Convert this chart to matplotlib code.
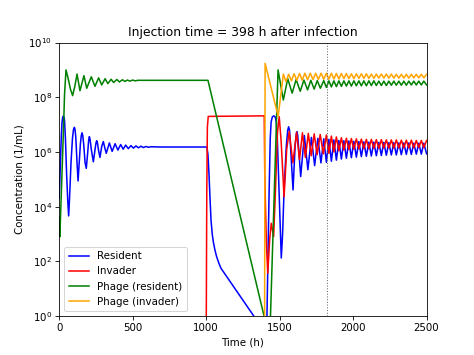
import numpy as np
import matplotlib
matplotlib.use('Agg')
import matplotlib.pyplot as plt

# values are log10(concentration)
blue_t = [0, 8, 14, 19, 24, 28, 32, 36, 42, 50, 58, 64, 70, 80, 90, 97, 103, 108, 113, 121, 128,
          136, 144, 150, 155, 160, 166, 176, 184, 194, 200, 205, 210, 218, 232, 244, 250, 255,
          260, 266, 277, 289, 300, 310, 320, 341, 360,
          380, 399, 418, 435, 452, 470, 488, 505, 522, 539, 556, 573, 590, 607, 624, 700,
          1005, 1012, 1019, 1026, 1033, 1041, 1049, 1060, 1071, 1085, 1100, 1330, 1412,
          1420, 1428, 1436, 1442, 1450, 1460, 1470, 1477, 1484, 1492, 1500, 1511, 1520, 1530,
          1545, 1555, 1561, 1567, 1575, 1591, 1605, 1613, 1618, 1623, 1643, 1668, 1692, 1716,
          1738, 1760, 1781, 1800]
blue_log = [4.3, 5.6, 6.6, 7.1, 7.28, 7.31, 7.28, 7.15, 6.5, 5.2, 4.2, 3.66, 4.3, 5.6, 6.5,
            6.82, 6.9, 6.8, 6.5, 5.6, 4.94, 5.6, 6.3, 6.6, 6.7, 6.6, 6.3, 5.6, 5.4, 6.0,
            6.42, 6.56, 6.45, 6.1, 5.64, 6.1, 6.33, 6.41, 6.33, 6.1, 5.8, 6.2,
            6.38, 6.15, 5.95, 6.33, 6.02, 6.3, 6.07, 6.27, 6.1, 6.25, 6.12, 6.23, 6.14, 6.22,
            6.15, 6.21, 6.16, 6.2, 6.17, 6.19, 6.18,
            6.18, 5.9, 5.2, 4.3, 3.5, 3.0, 2.7, 2.4, 2.17, 1.95, 1.75, -0.05, -0.5,
            2.0, 4.5, 6.5, 7.1, 7.28, 7.32, 7.28, 7.1, 6.5, 5.2, 3.8, 2.12, 3.0, 4.6,
            6.2, 6.8, 6.92, 6.8, 6.1, 4.61, 6.2, 6.65, 6.74, 6.6, 5.1, 6.6, 5.35, 6.53,
            5.5, 6.5, 5.6, 6.48]

red_t = [1000, 1004, 1008, 1014, 1395, 1399, 1410, 1419, 1432, 1443, 1459, 1470, 1485, 1497,
         1510, 1530, 1548, 1565, 1590, 1615, 1635, 1655, 1675, 1695, 1715, 1735, 1755, 1776, 1797]
red_log = [-1, 4.5, 6.9, 7.3, 7.32, 5.0, 2.6, 1.56, 2.8, 3.39, 2.9, 4.4, 6.7, 7.29,
           6.4, 4.36, 6.1, 6.75, 5.6, 6.72, 5.72, 6.7, 5.8, 6.68, 5.86, 6.66, 5.9, 6.64, 5.93]

green_t = [0, 4, 16, 28, 36, 46, 60, 76, 91, 106, 121, 141, 168, 187, 218, 243, 268, 289, 312,
           331, 353, 370, 392, 409, 430, 447, 464, 480, 500, 517, 535, 600, 1012, 1398, 1437,
           1489, 1525, 1555, 1585, 1612, 1640, 1665, 1690, 1712, 1735, 1756, 1777, 1800]
green_log = [3.6, 2.9, 4.8, 6.7, 8.1, 9.0, 8.7, 8.3, 8.06, 8.4, 8.85, 8.24, 8.79, 8.33, 8.75,
             8.4, 8.71, 8.45, 8.68, 8.5, 8.66, 8.54, 8.65, 8.56, 8.64, 8.58, 8.63, 8.59, 8.63,
             8.6, 8.62, 8.62, 8.62, -0.1, -0.1,
             9.0, 7.9, 8.68, 8.15, 8.65, 8.22, 8.63, 8.27, 8.62, 8.3, 8.61, 8.33, 8.61]

orange_t = [1397, 1401, 1490, 1525, 1543, 1561, 1580, 1598, 1617, 1635, 1653, 1672, 1690,
            1708, 1727, 1745, 1763, 1782, 1800]
orange_log = [-1, 9.24, 7.3, 8.85, 8.57, 8.84, 8.6, 8.86, 8.62, 8.87, 8.63, 8.88, 8.64,
              8.88, 8.65, 8.88, 8.65, 8.88, 8.66]

# late, nearly steady oscillations (shared sample times)
tail_t = [1818, 1835, 1852, 1869, 1886, 1903, 1920, 1937, 1954, 1971, 1988, 2005, 2022, 2039,
          2056, 2073, 2090, 2107, 2124, 2141, 2158, 2175, 2192, 2209, 2226, 2243, 2260, 2277,
          2294, 2311, 2328, 2345, 2362, 2379, 2396, 2413, 2430, 2447, 2464, 2481, 2500]
blue_tail = [5.62, 6.46, 5.66, 6.44, 5.70, 6.42, 5.74, 6.41, 5.77, 6.40, 5.79, 6.39, 5.81, 6.38,
             5.83, 6.37, 5.84, 6.36, 5.85, 6.36, 5.86, 6.35, 5.87, 6.35, 5.88, 6.34, 5.89, 6.34,
             5.89, 6.33, 5.90, 6.33, 5.91, 6.33, 5.91, 6.32, 5.92, 6.32, 5.92, 6.32, 5.93]
red_tail = [6.62, 5.95, 6.58, 6.0, 6.55, 6.04, 6.52, 6.07, 6.5, 6.09, 6.49, 6.1, 6.48, 6.11,
            6.47, 6.12, 6.46, 6.12, 6.46, 6.13, 6.45, 6.13, 6.45, 6.14, 6.44, 6.14, 6.44, 6.14,
            6.44, 6.15, 6.43, 6.15, 6.43, 6.15, 6.43, 6.15, 6.42, 6.16, 6.42, 6.16, 6.42]
green_tail = [8.36, 8.6, 8.38, 8.6, 8.39, 8.6, 8.4, 8.6, 8.41, 8.6, 8.41, 8.6, 8.42, 8.6,
              8.42, 8.6, 8.42, 8.6, 8.43, 8.6, 8.43, 8.59, 8.43, 8.59, 8.43, 8.59, 8.44, 8.59,
              8.44, 8.59, 8.44, 8.59, 8.44, 8.59, 8.45, 8.59, 8.45, 8.59, 8.45, 8.59, 8.45]
orange_tail = [8.88, 8.66, 8.88, 8.67, 8.87, 8.67, 8.87, 8.68, 8.87, 8.68, 8.86, 8.68, 8.86, 8.69,
               8.86, 8.69, 8.86, 8.69, 8.85, 8.69, 8.85, 8.7, 8.85, 8.7, 8.85, 8.7, 8.85, 8.7,
               8.84, 8.7, 8.84, 8.7, 8.84, 8.7, 8.84, 8.71, 8.84, 8.71, 8.84, 8.71, 8.84]

injection_line = 1820

fig, ax = plt.subplots(figsize=(474 / 74, 355 / 74), dpi=74)

series = [
    ('Resident', 'blue', blue_t, blue_log, blue_tail),
    ('Invader', 'red', red_t, red_log, red_tail),
    ('Phage (resident)', 'green', green_t, green_log, green_tail),
    ('Phage (invader)', 'orange', orange_t, orange_log, orange_tail),
]
for label, color, t, lg, tail in series:
    tt = np.array(t + tail_t)
    yy = 10.0 ** np.array(lg + tail)
    ax.plot(tt, yy, color=color, label=label)

ax.axvline(injection_line, color='dimgray', linestyle=':', linewidth=1)

ax.set_yscale('log')
ax.set_xlim(0, 2500)
ax.set_ylim(1, 1e10)
ax.set_xlabel('Time (h)')
ax.set_ylabel('Concentration (1/mL)')
ax.set_title('Injection time = 398 h after infection')
ax.legend(loc='lower left')

fig.savefig('out.png', dpi=74)
